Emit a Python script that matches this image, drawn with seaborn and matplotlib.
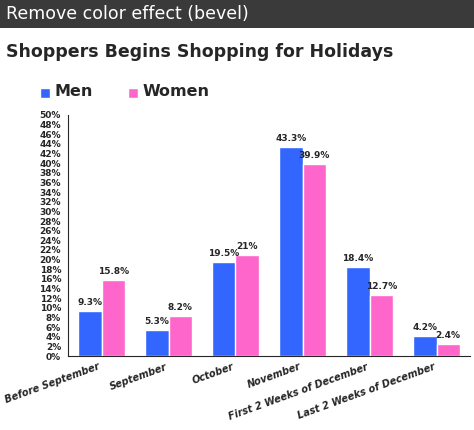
import matplotlib
matplotlib.use("Agg")
import matplotlib.pyplot as plt
import seaborn as sns
import pandas as pd
import numpy as np
from matplotlib.patches import Rectangle

categories = ["Before September", "September", "October", "November",
              "First 2 Weeks of December", "Last 2 Weeks of December"]
men = [9.3, 5.3, 19.5, 43.3, 18.4, 4.2]
women = [15.8, 8.2, 21, 39.9, 12.7, 2.4]
labels_men = ["9.3%", "5.3%", "19.5%", "43.3%", "18.4%", "4.2%"]
labels_women = ["15.8%", "8.2%", "21%", "39.9%", "12.7%", "2.4%"]

df = pd.DataFrame({"cat": categories * 2, "val": men + women,
                   "sex": ["Men"] * 6 + ["Women"] * 6})

sns.set_style("white")
plt.rcParams['font.family'] = ['DejaVu Sans']
fig = plt.figure(figsize=(4.74, 4.30), dpi=100)
fig.patches.append(Rectangle((0, 1 - 28/430), 1, 28/430, transform=fig.transFigure,
                             facecolor="#3a3a3a", edgecolor="none"))
fig.text(0.012, 1 - 14/430, "Remove color effect (bevel)", color="white",
         fontsize=12.5, va="center", ha="left")
fig.text(0.012, 1 - 52/430, "Shoppers Begins Shopping for Holidays",
         fontsize=12.5, fontweight="heavy", va="center", ha="left")

ax = fig.add_axes([68/474, 1 - 356/430, 402/474, 241/430])
sns.barplot(data=df, x="cat", y="val", hue="sex", palette=["#3366ff", "#ff66cc"],
            width=0.7, ax=ax, legend=False, saturation=1)
for c, lab in zip(ax.containers, [labels_men, labels_women]):
    ax.bar_label(c, labels=lab, fontsize=6.5, fontweight="bold", padding=3)
ax.set_ylim(0, 50)
ax.set_xlim(-0.5, 5.5)
ax.set_yticks(np.arange(0, 51, 2))
ax.set_yticklabels([f"{v}%" for v in range(0, 51, 2)], fontsize=6.5, fontweight="bold")
ax.set_xticks(np.arange(-0.5, 6, 1), minor=False)
ax.set_xticklabels([])
ax.set_xticks(np.arange(6), minor=True)
ax.set_xticklabels(categories, minor=True, rotation=20, ha="right",
                   fontsize=7, fontweight="bold", style="italic")
ax.tick_params(axis="x", which="minor", length=0, pad=4)
ax.tick_params(axis="x", which="major", length=4, direction="out")
ax.tick_params(axis="y", length=3, direction="out", pad=2)
for s in ["top", "right"]:
    ax.spines[s].set_visible(False)
ax.set_xlabel("")
ax.set_ylabel("")

fig.patches.append(Rectangle((40/474, 1 - 98/430), 10/474, 10/430, transform=fig.transFigure,
                             facecolor="#3366ff"))
fig.text(55/474, 1 - 92/430, "Men", fontsize=11.5, fontweight="heavy", va="center")
fig.patches.append(Rectangle((128/474, 1 - 98/430), 10/474, 10/430, transform=fig.transFigure,
                             facecolor="#ff66cc"))
fig.text(143/474, 1 - 92/430, "Women", fontsize=11.5, fontweight="heavy", va="center")

fig.savefig("out.png", dpi=100)
